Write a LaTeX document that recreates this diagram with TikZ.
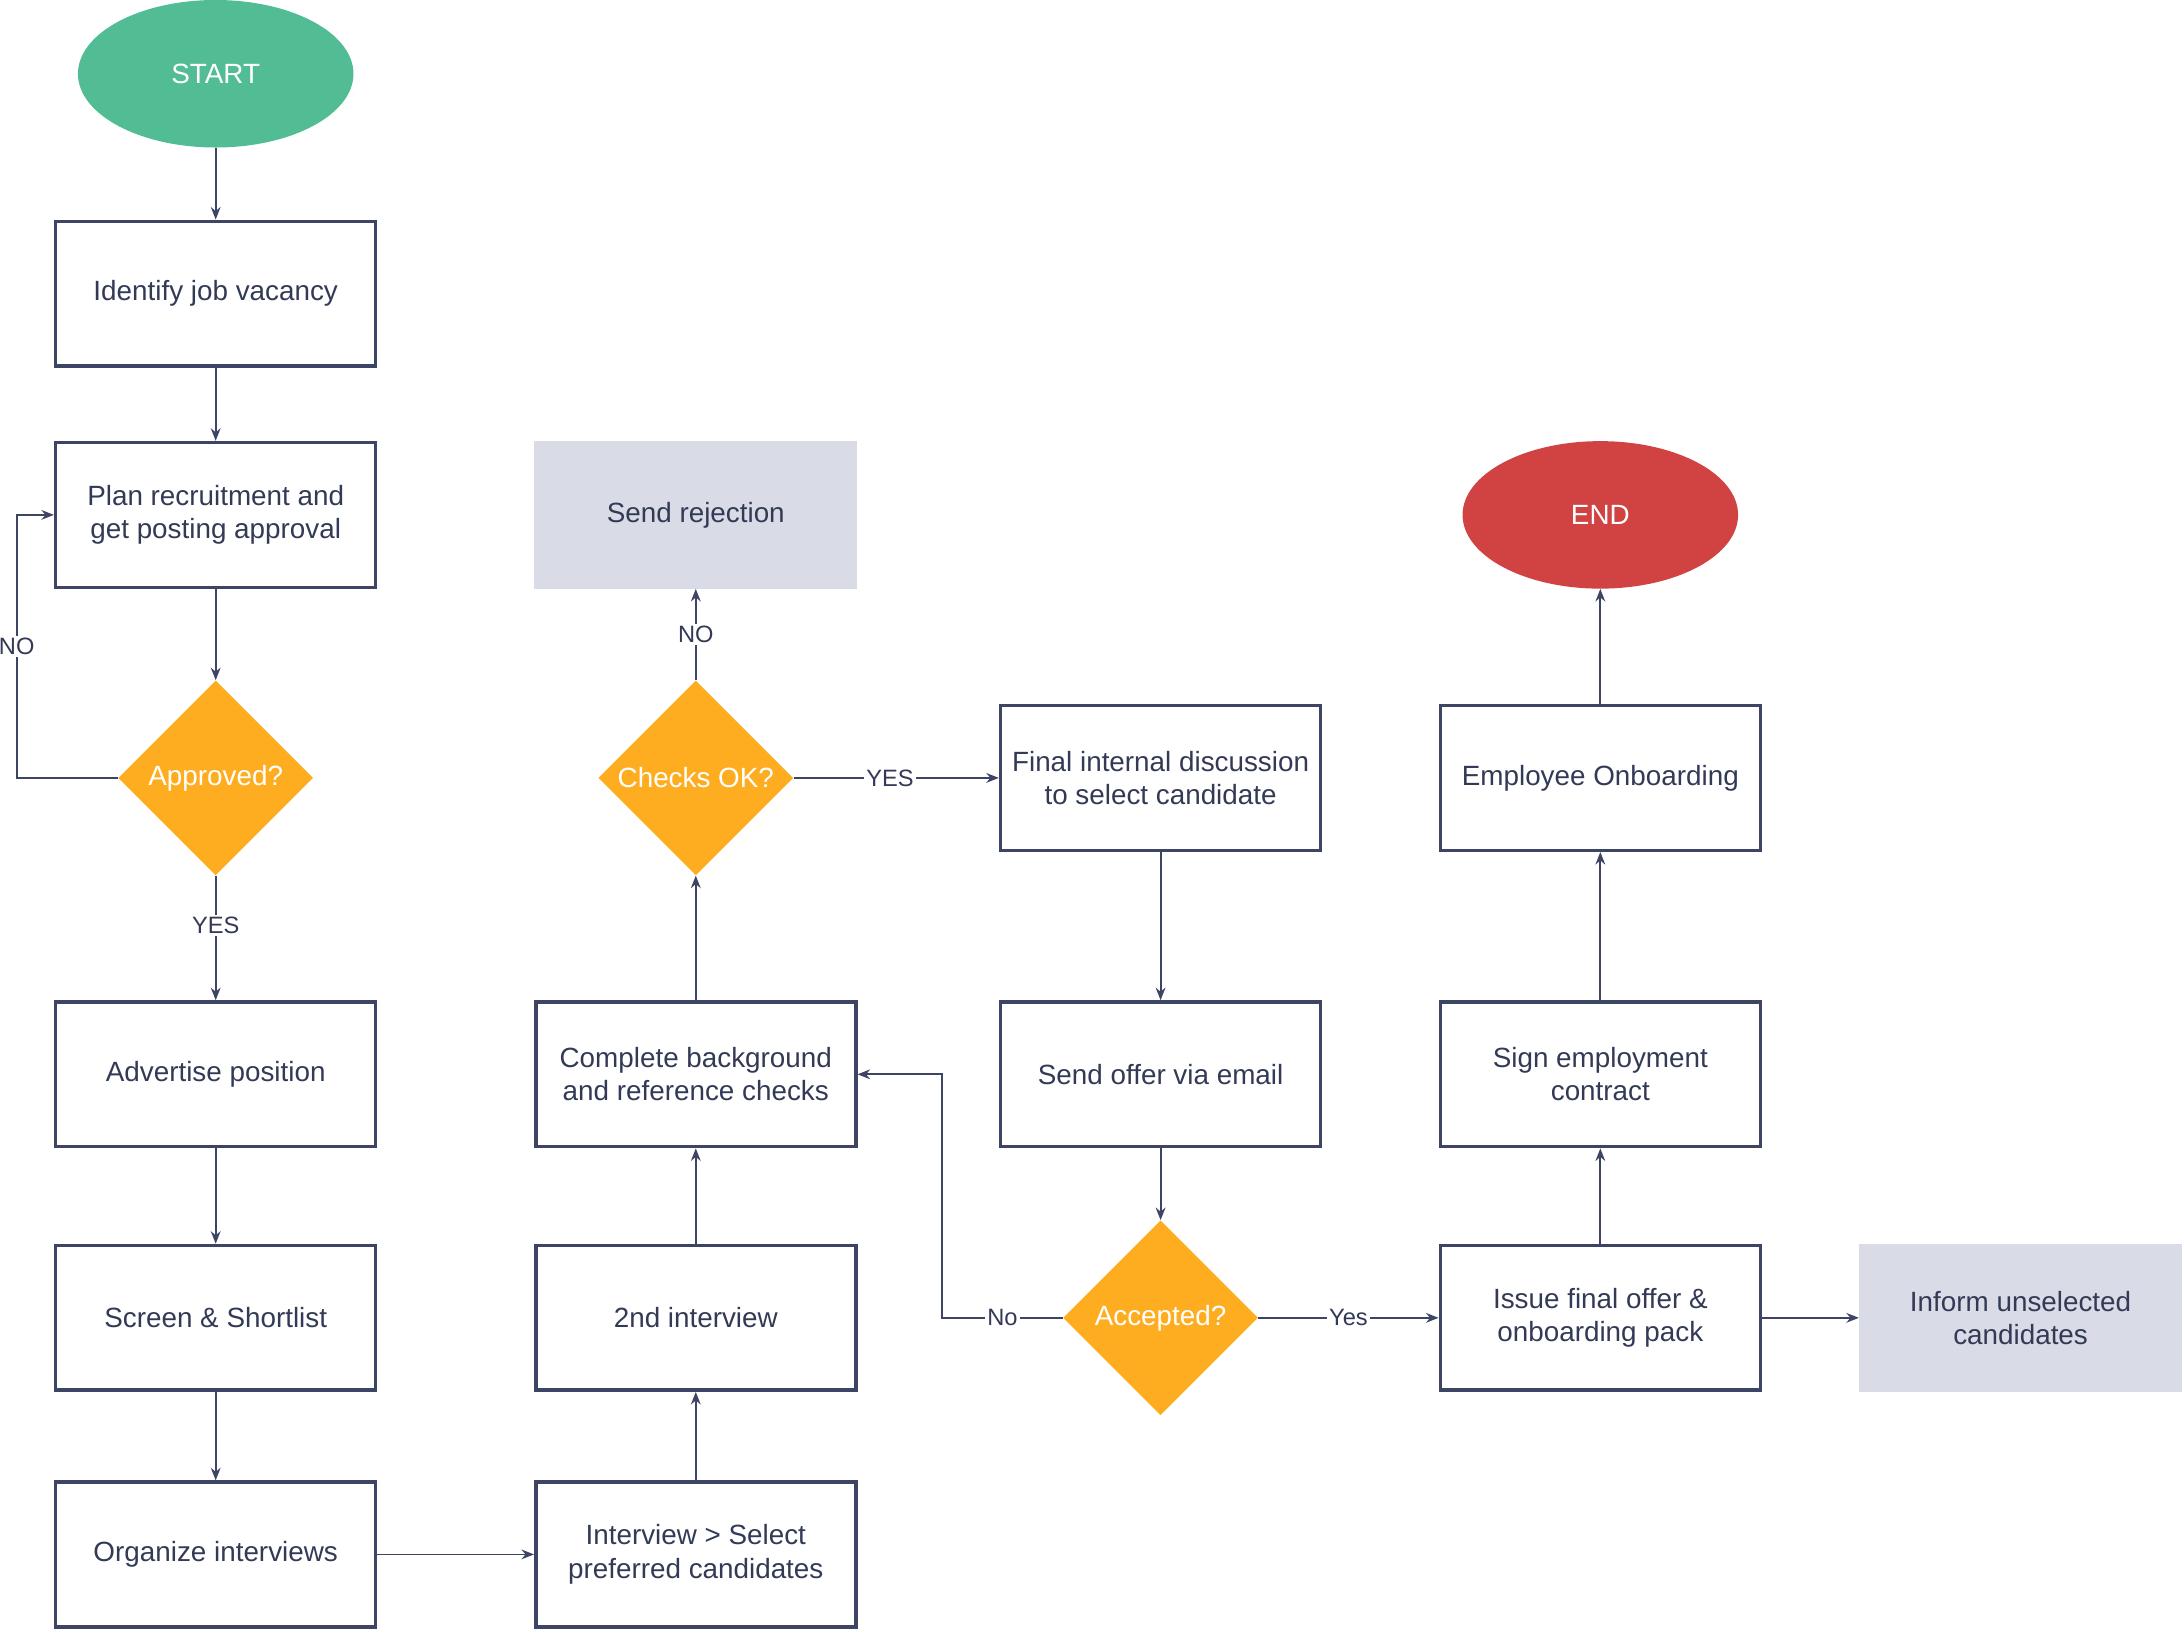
\documentclass[tikz,border=0pt]{standalone}
\usepackage{fontspec}
\setmainfont{Liberation Sans}
\usetikzlibrary{shapes.geometric,arrows.meta}
\definecolor{ln}{HTML}{3E4463}
\definecolor{tx}{HTML}{333A56}
\definecolor{grn}{HTML}{52BD94}
\definecolor{rd}{HTML}{D14343}
\definecolor{gry}{HTML}{D9DBE6}
\definecolor{org}{HTML}{FFAD20}
\begin{document}
\begin{tikzpicture}[x=1pt,y=-1pt,
 every node/.style={font=\fontsize{20}{24}\selectfont,text=tx,align=center},
 box/.style={draw=ln,line width=2.5pt,minimum width=230pt,minimum height=104pt,inner sep=0pt},
 gbox/.style={fill=gry,minimum width=232pt,minimum height=106pt,inner sep=0pt},
 term/.style={ellipse,minimum width=198pt,minimum height=106pt,text=white,inner sep=0pt},
 dec/.style={diamond,fill=org,minimum width=140pt,minimum height=140pt,inner sep=0pt,text=white,aspect=1},
 ar/.style={draw=ln,line width=1.3pt,-{Stealth[length=9pt,width=7pt]}},
 lab/.style={fill=white,inner sep=1.5pt,font=\fontsize{17}{20}\selectfont}]
\useasboundingbox (0,0) rectangle (1568,1170);
\node[term,fill=grn] (start) at (155,53) {START};
\node[box] (ident) at (155,211) {Identify job vacancy};
\node[box] (plan) at (155,370) {Plan recruitment and\\get posting approval};
\node[dec] (appr) at (155,559) {Approved?};
\node[box] (adv) at (155,772) {Advertise position};
\node[box] (scr) at (155,947) {Screen \& Shortlist};
\node[box] (org) at (155,1117) {Organize interviews};
\node[box] (intv) at (500,1117) {Interview > Select\\preferred candidates};
\node[box] (sec) at (500,947) {2nd interview};
\node[box] (bg) at (500,772) {Complete background\\and reference checks};
\node[dec] (chk) at (500,559) {Checks OK?};
\node[gbox] (rej) at (500,370) {Send rejection};
\node[box] (fin) at (834,559) {Final internal discussion\\to select candidate};
\node[box] (off) at (834,772) {Send offer via email};
\node[dec] (acc) at (834,947) {Accepted?};
\node[box] (iss) at (1150,947) {Issue final offer \&\\onboarding pack};
\node[box] (sign) at (1150,772) {Sign employment\\contract};
\node[box] (emp) at (1150,559) {Employee Onboarding};
\node[term,fill=rd] (end) at (1150,370) {END};
\node[gbox] (inf) at (1452,947) {Inform unselected\\candidates};
\draw[ar] (start) -- (ident);
\draw[ar] (ident) -- (plan);
\draw[ar] (plan) -- (appr);
\draw[ar] (appr.west) -- (12,559) -- node[lab]{NO} (12,370) -- (plan.west);
\draw[ar] (appr) -- node[lab,pos=0.4]{YES} (adv);
\draw[ar] (adv) -- (scr);
\draw[ar] (scr) -- (org);
\draw[ar] (org) -- (intv);
\draw[ar] (intv) -- (sec);
\draw[ar] (sec) -- (bg);
\draw[ar] (bg) -- (chk);
\draw[ar] (chk) -- node[lab]{NO} (rej);
\draw[ar] (chk) -- node[lab,pos=0.47]{YES} (fin);
\draw[ar] (fin) -- (off);
\draw[ar] (off) -- (acc);
\draw[ar] (acc.west) -- node[lab,pos=0.5]{No} (677,947) -- (677,772) -- (bg.east);
\draw[ar] (acc) -- node[lab,pos=0.5]{Yes} (iss);
\draw[ar] (iss) -- (inf);
\draw[ar] (iss) -- (sign);
\draw[ar] (sign) -- (emp);
\draw[ar] (emp) -- (end);
\end{tikzpicture}
\end{document}
